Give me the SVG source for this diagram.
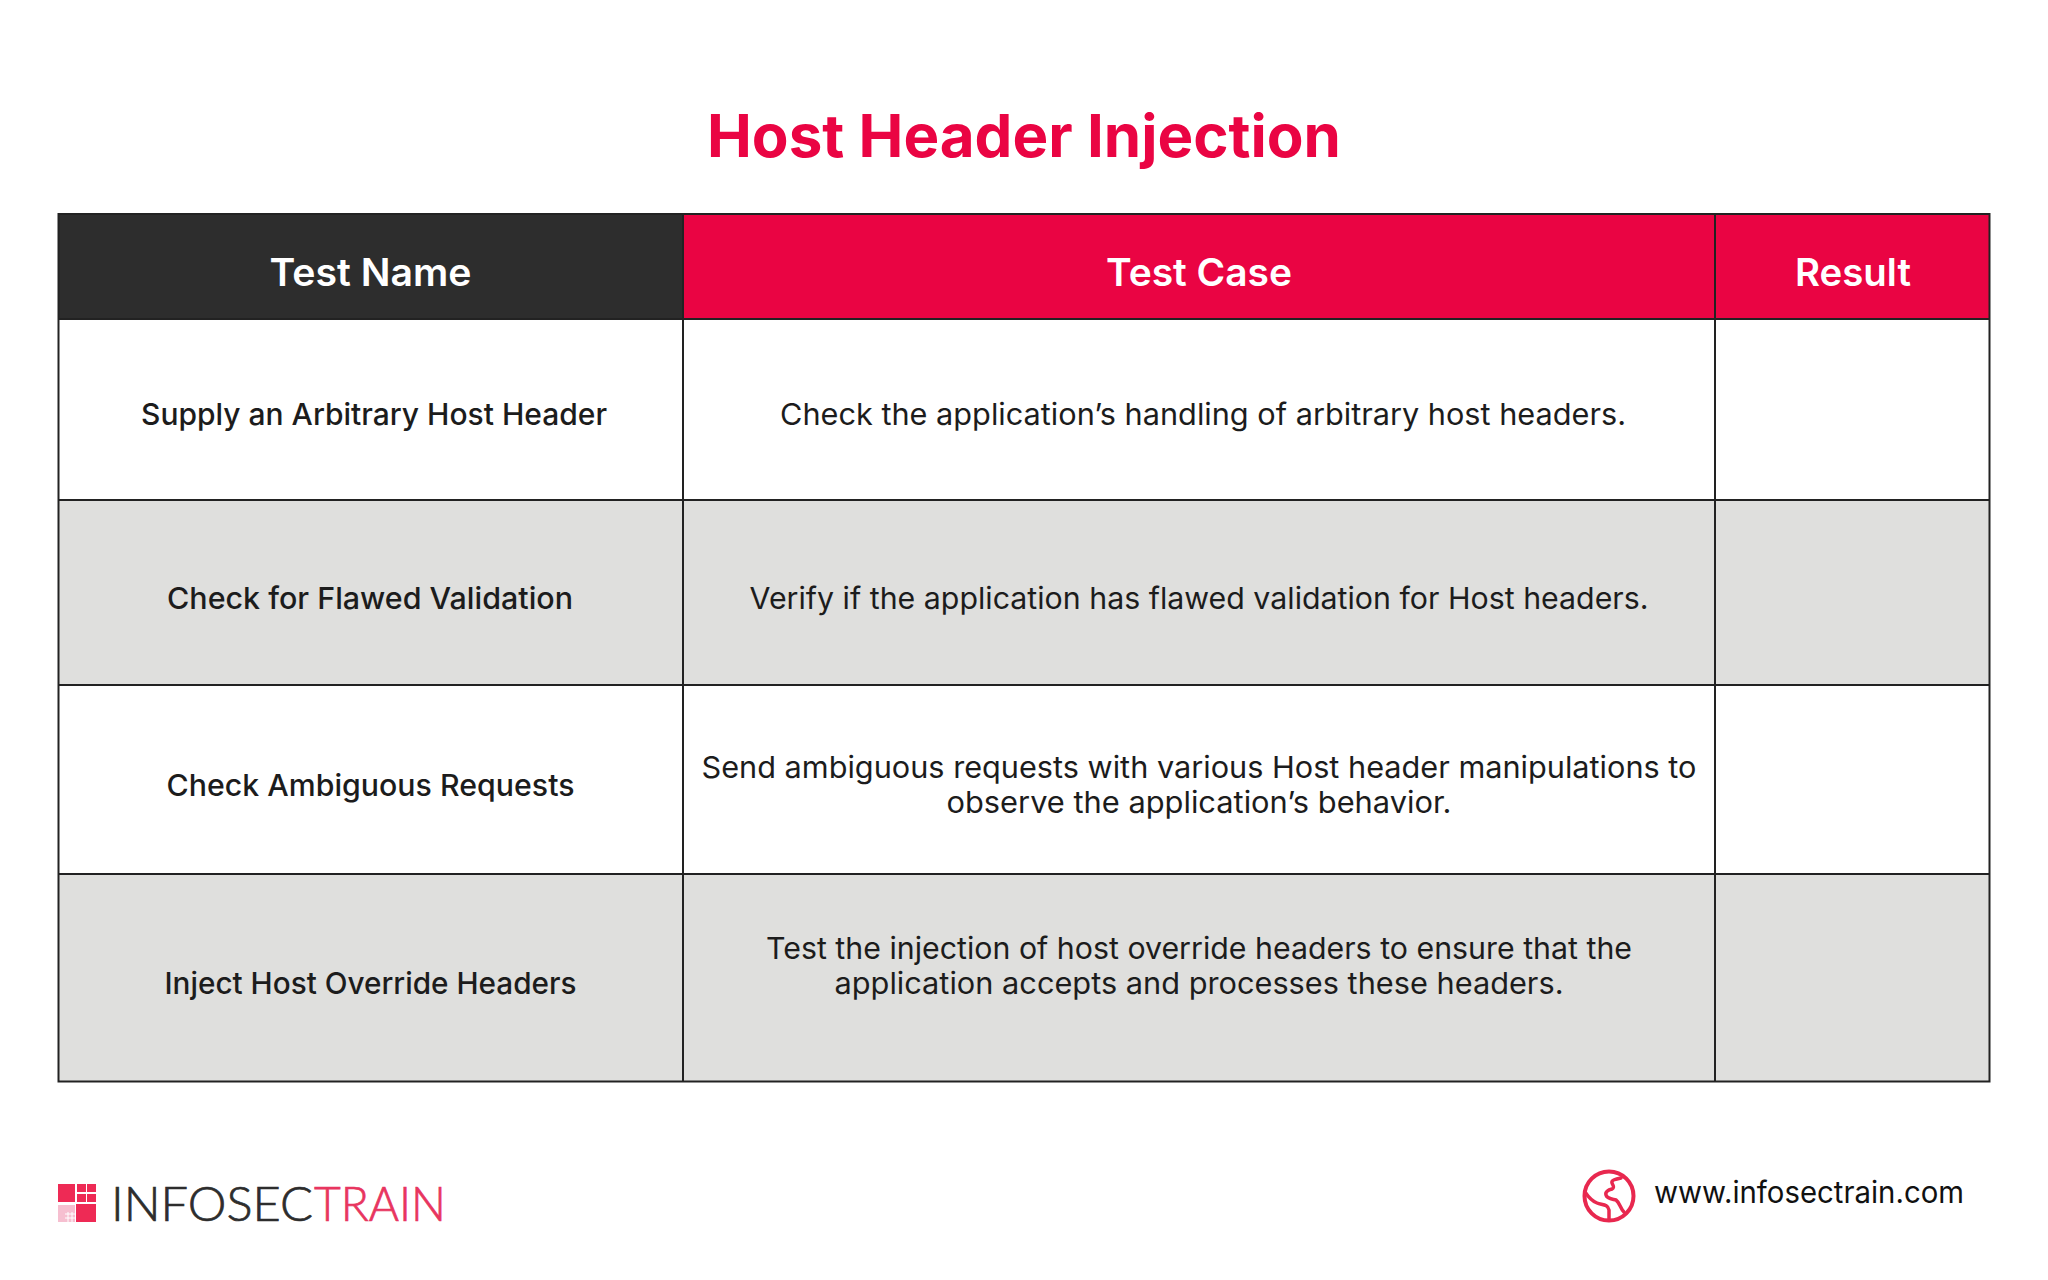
<svg xmlns="http://www.w3.org/2000/svg" width="2048" height="1280" viewBox="0 0 2048 1280">
<style>
text{font-family:Inter,"Liberation Sans",sans-serif;text-anchor:middle}
.g{fill:#dfdfdd}.w{fill:#fff}
.ln{stroke:#222;stroke-width:2;fill:none}
.h{font-size:38px;font-weight:600;fill:#fff}
.n{font-size:30px;font-weight:500;fill:#1c1c1c}
.c{font-size:30px;font-weight:400;fill:#1c1c1c}
.r{fill:#ee2a55}
.lg{font-size:47px;font-weight:300;text-anchor:start;font-family:Lato,sans-serif;stroke-width:.7px}
</style>
<rect width="2048" height="1280" fill="#fff"/>
<text id="title" x="1024" y="157" font-size="59" font-weight="700" fill="#ea0443" textLength="634" lengthAdjust="spacingAndGlyphs">Host Header Injection</text>
<g id="table">
<rect x="58" y="214" width="625" height="105" fill="#2d2d2d"/>
<rect x="683" y="214" width="1306" height="105" fill="#ea0443"/>
<rect x="58" y="500" width="1931" height="185" class="g"/>
<rect x="58" y="874" width="1931" height="208" class="g"/>
<path class="ln" d="M58.500 214H1989.500V1081.500H58.500ZM683 214V1081M1715 214V1081M58 319H1989M58 500H1989M58 685H1989M58 874H1989"/>
</g>
<g id="header">
<text class="h" x="370.500" y="286" textLength="202" lengthAdjust="spacingAndGlyphs">Test Name</text>
<text class="h" x="1199" y="286" textLength="186" lengthAdjust="spacingAndGlyphs">Test Case</text>
<text class="h" x="1853" y="286" textLength="116" lengthAdjust="spacingAndGlyphs">Result</text>
</g>
<g id="row1">
<text class="n" x="374" y="425" textLength="466" lengthAdjust="spacingAndGlyphs">Supply an Arbitrary Host Header</text>
<text class="c" x="1203" y="425" textLength="846" lengthAdjust="spacingAndGlyphs">Check the application’s handling of arbitrary host headers.</text>
</g>
<g id="row2">
<text class="n" x="370" y="609" textLength="406" lengthAdjust="spacingAndGlyphs">Check for Flawed Validation</text>
<text class="c" x="1199" y="609" textLength="899" lengthAdjust="spacingAndGlyphs">Verify if the application has flawed validation for Host headers.</text>
</g>
<g id="row3">
<text class="n" x="370.500" y="796" textLength="408" lengthAdjust="spacingAndGlyphs">Check Ambiguous Requests</text>
<text class="c" x="1199" y="778" textLength="995" lengthAdjust="spacingAndGlyphs">Send ambiguous requests with various Host header manipulations to</text>
<text class="c" x="1199" y="813" textLength="505" lengthAdjust="spacingAndGlyphs">observe the application’s behavior.</text>
</g>
<g id="row4">
<text class="n" x="370.500" y="994" textLength="412" lengthAdjust="spacingAndGlyphs">Inject Host Override Headers</text>
<text class="c" x="1199" y="959" textLength="866" lengthAdjust="spacingAndGlyphs">Test the injection of host override headers to ensure that the</text>
<text class="c" x="1199" y="994" textLength="729" lengthAdjust="spacingAndGlyphs">application accepts and processes these headers.</text>
</g>
<g id="logo">
<rect class="r" x="58" y="1184" width="17" height="18"/>
<rect class="r" x="77" y="1184" width="9" height="8"/><rect class="r" x="87" y="1184" width="9" height="8"/>
<rect class="r" x="77" y="1194" width="9" height="8"/><rect class="r" x="87" y="1194" width="9" height="8"/>
<rect x="58" y="1205" width="17" height="17" fill="#f6bfd0"/>
<path d="M65 1214H75M65 1218H75M68 1212V1222M72 1212V1222" stroke="#fff" stroke-width="1"/>
<rect class="r" x="76" y="1204" width="20" height="18"/>
<text class="lg" x="111" y="1221" fill="#2d2d2d" stroke="#2d2d2d" textLength="202" lengthAdjust="spacingAndGlyphs">INFOSEC</text>
<text class="lg" x="314" y="1221" fill="#e8355f" stroke="#e8355f" textLength="132" lengthAdjust="spacingAndGlyphs">TRAIN</text>
</g>
<g id="web">
<circle cx="1609" cy="1196" r="24.500" fill="none" stroke="#e8284f" stroke-width="4"/>
<path d="M1621 1178C1616 1179 1611 1180 1612 1183C1613 1186 1615 1187 1612 1189C1608 1190 1605 1192 1606 1195C1607 1199 1612 1199 1616 1200C1620 1203 1620 1208 1624 1212M1585 1192C1589 1198 1592 1201 1597 1203C1602 1205 1608 1204 1609 1210V1220" fill="none" stroke="#e8284f" stroke-width="3.500" stroke-linecap="round" stroke-linejoin="round"/>
<text x="1809" y="1203" font-size="30" fill="#111" textLength="310" lengthAdjust="spacingAndGlyphs">www.infosectrain.com</text>
</g>
</svg>
